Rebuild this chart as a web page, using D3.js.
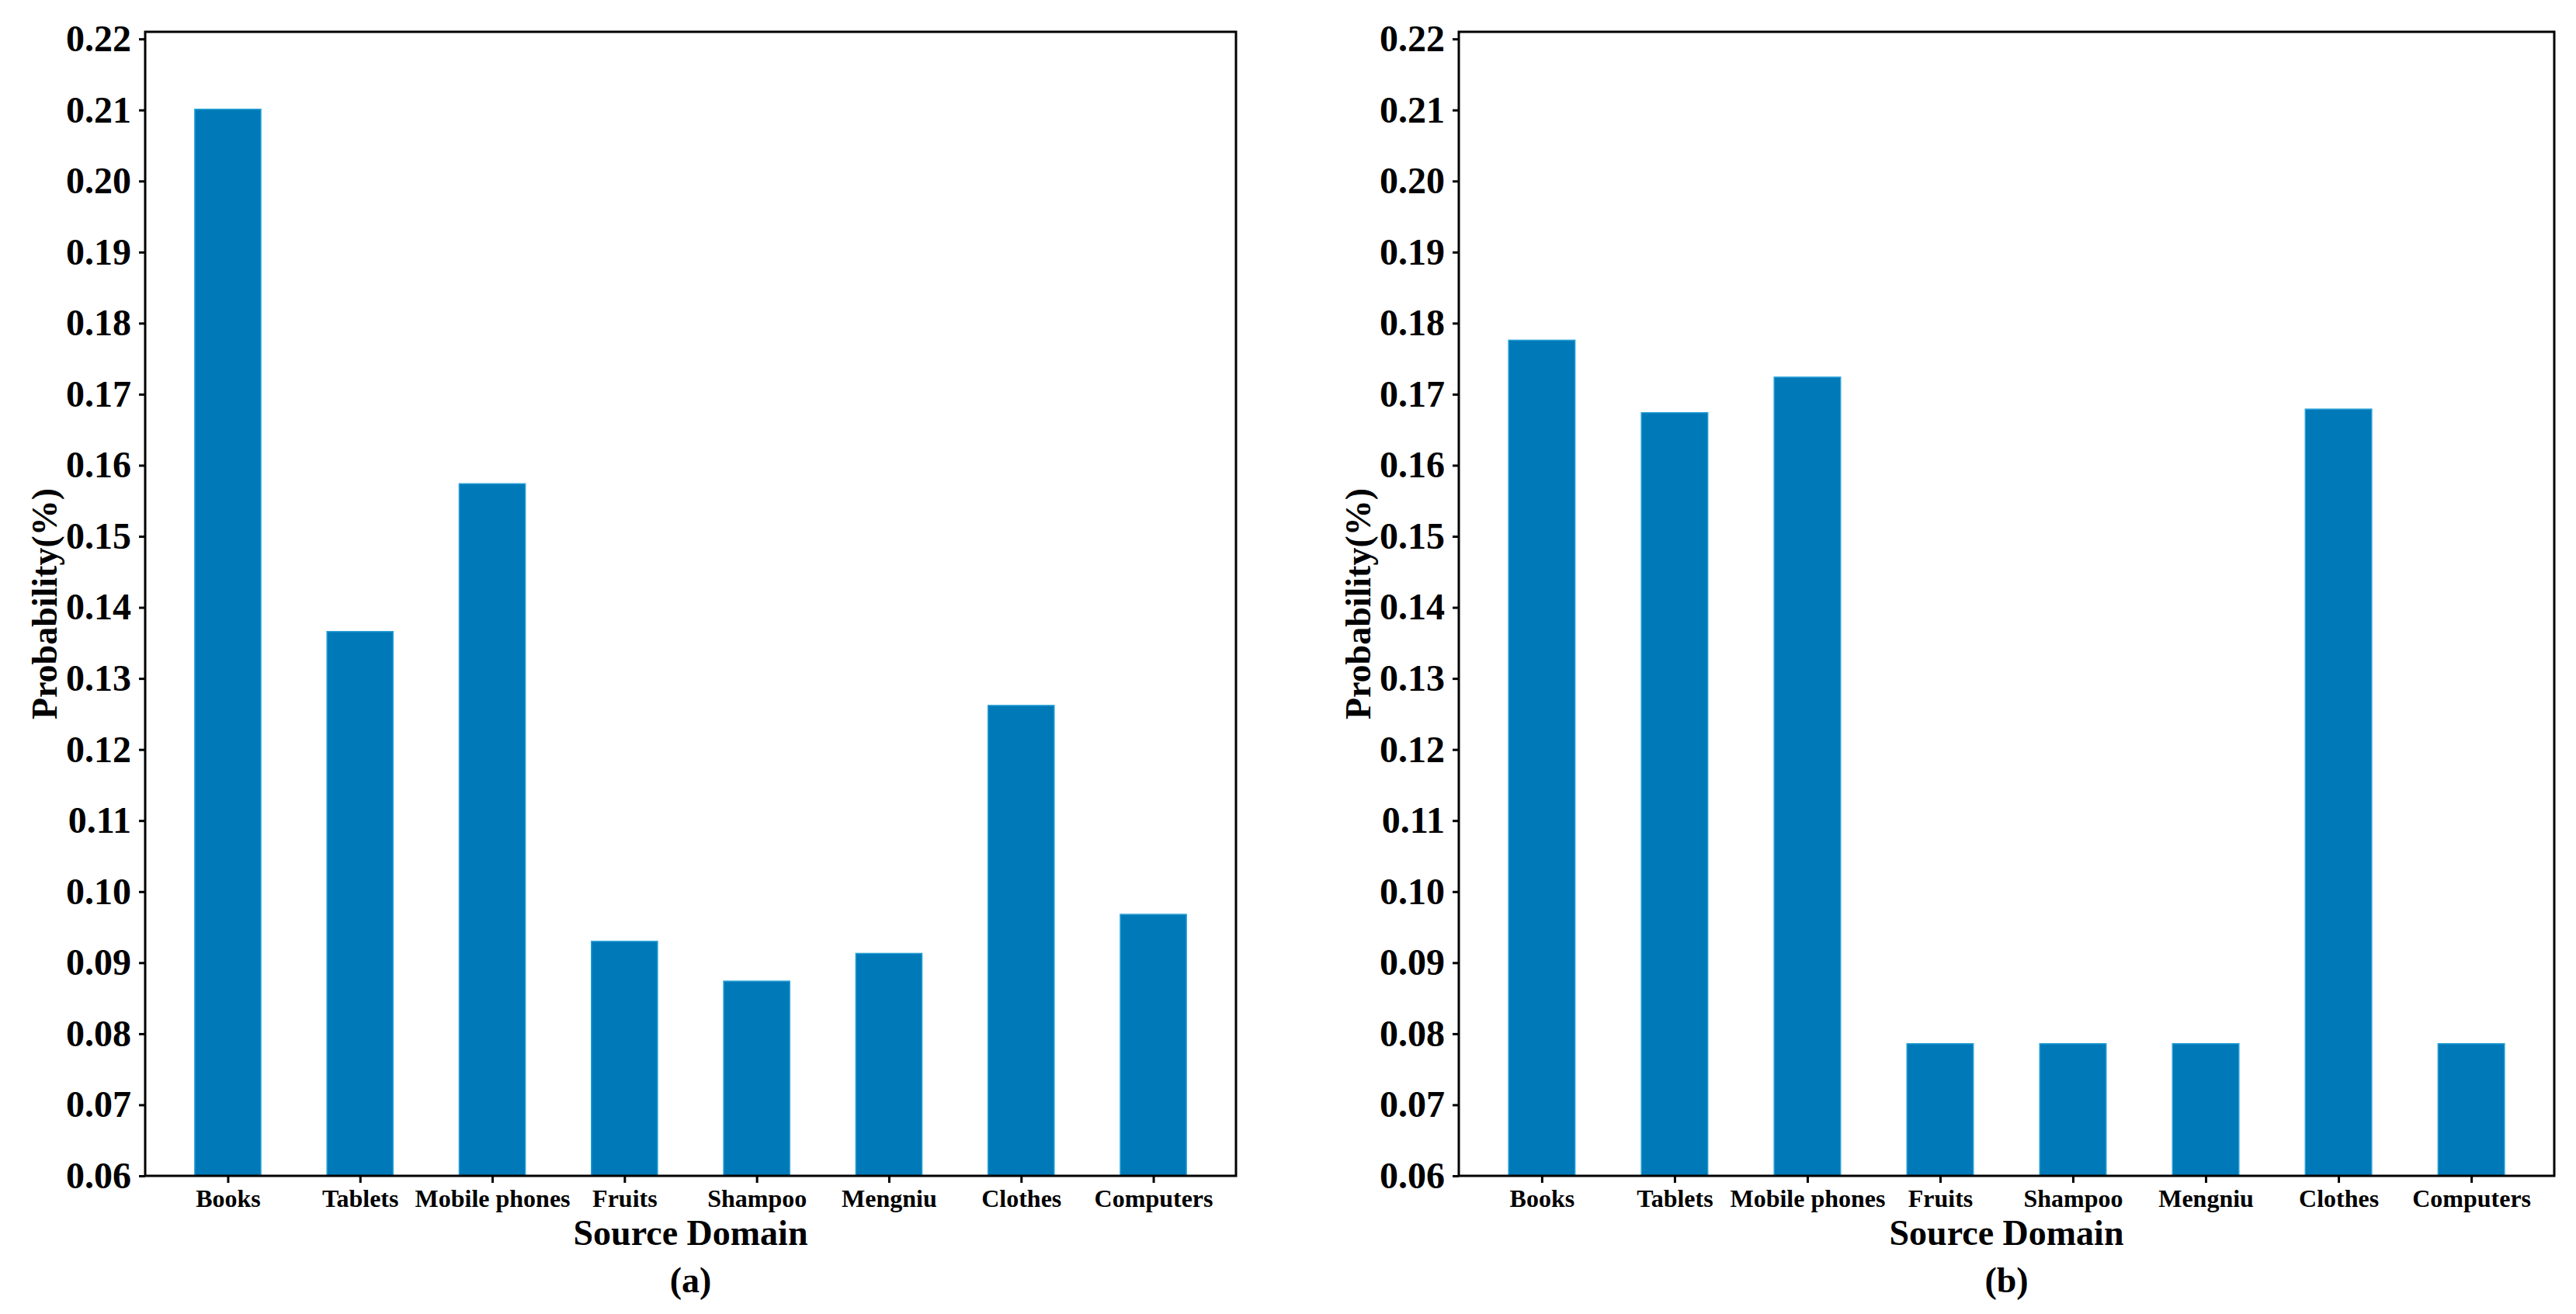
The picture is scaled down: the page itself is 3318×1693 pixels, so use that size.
<!DOCTYPE html>
<html>
<head>
<meta charset="utf-8">
<script src="https://cdn.jsdelivr.net/npm/d3@7"></script>
<style>
  body { margin: 0; background: #fff; }
  text { font-family: "Liberation Serif", "Times New Roman", serif; font-weight: bold; }
</style>
</head>
<body>
<div id="chart"></div>
<script>
// Source domains shown on the x axis
const categories = ["Books", "Tablets", "Mobile phones", "Fruits", "Shampoo", "Mengniu", "Clothes", "Computers"];

// Probability per source domain, panel (a) and panel (b)
const valuesA = [0.2101, 0.1366, 0.1574, 0.0930, 0.0874, 0.0913, 0.1262, 0.0968];
const valuesB = [0.1776, 0.1674, 0.1724, 0.0786, 0.0786, 0.0786, 0.1679, 0.0786];

// y tick values
const yTicks = [0.06, 0.07, 0.08, 0.09, 0.10, 0.11, 0.12, 0.13, 0.14, 0.15, 0.16, 0.17, 0.18, 0.19, 0.20, 0.21, 0.22];

const width = 3318;
const height = 1693;
const plotTop = 41, plotBottom = 1515;

const svg = d3.select("#chart")
  .append("svg")
  .attr("width", width)
  .attr("height", height);

// one bar panel
function drawPanel(left, right, values, caption) {
  const g = svg.append("g");

  const x = d3.scaleLinear()
    .domain([-0.625, categories.length - 1 + 0.625])
    .range([left, right]);

  const y = d3.scaleLinear()
    .domain([0.06, 0.221])
    .range([plotBottom, plotTop]);

  // bars
  g.selectAll(".bar")
    .data(values)
    .enter()
    .append("rect")
    .attr("class", "bar")
    .attr("x", (d, i) => x(i - 0.25))
    .attr("y", d => y(d))
    .attr("width", x(0.5) - x(0))
    .attr("height", d => plotBottom - y(d))
    .attr("fill", "#0079b8")
    .attr("stroke", "#27a0d6")
    .attr("stroke-width", 1.5);

  // y axis
  g.append("g")
    .attr("transform", `translate(${left},0)`)
    .call(d3.axisLeft(y).tickValues(yTicks).tickFormat(d3.format(".2f")).tickSize(8).tickPadding(10))
    .call(a => a.select(".domain").remove())
    .call(a => a.selectAll("line").attr("stroke-width", 3))
    .call(a => a.selectAll("text").attr("font-size", "48px").attr("fill", "#000")
      .attr("font-family", "Liberation Serif").attr("font-weight", "bold"));

  // x axis
  g.append("g")
    .attr("transform", `translate(0,${plotBottom})`)
    .call(d3.axisBottom(x).tickValues(d3.range(categories.length)).tickFormat(i => categories[i]).tickSize(9).tickPadding(8))
    .call(a => a.select(".domain").remove())
    .call(a => a.selectAll("line").attr("stroke-width", 3))
    .call(a => a.selectAll("text").attr("font-size", "32px").attr("fill", "#000")
      .attr("font-family", "Liberation Serif").attr("font-weight", "bold"));

  // frame
  g.append("rect")
    .attr("x", left)
    .attr("y", plotTop)
    .attr("width", right - left)
    .attr("height", plotBottom - plotTop)
    .attr("fill", "none")
    .attr("stroke", "#000")
    .attr("stroke-width", 3);

  // axis labels
  g.append("text")
    .attr("x", (left + right) / 2)
    .attr("y", 1604)
    .attr("text-anchor", "middle")
    .attr("font-size", "46px")
    .text("Source Domain");

  g.append("text")
    .attr("transform", `translate(${left - 114},${(plotTop + plotBottom) / 2}) rotate(-90)`)
    .attr("text-anchor", "middle")
    .attr("font-size", "46px")
    .text("Probability(%)");

  g.append("text")
    .attr("x", (left + right) / 2)
    .attr("y", 1665)
    .attr("text-anchor", "middle")
    .attr("font-size", "46px")
    .text(caption);
}

drawPanel(187, 1592, valuesA, "(a)");
drawPanel(1879, 3290, valuesB, "(b)");
</script>
</body>
</html>
